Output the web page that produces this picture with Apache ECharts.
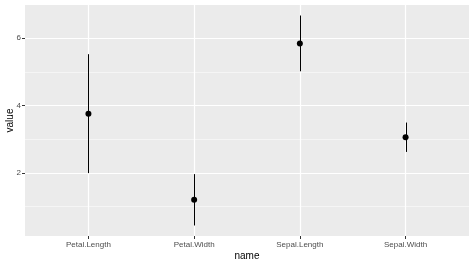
<!DOCTYPE html>
<html>
<head>
<meta charset="utf-8">
<script src="https://cdn.jsdelivr.net/npm/echarts@6/dist/echarts.min.js"></script>
<style>
html,body{margin:0;padding:0;background:#fff;}
#c{width:474px;height:265px;}
</style>
</head>
<body>
<div id="c"></div>
<script>
var categories = ['Petal.Length', 'Petal.Width', 'Sepal.Length', 'Sepal.Width'];
var means = [3.758, 1.199, 5.843, 3.057];
var lowers = [1.993, 0.437, 5.015, 2.621];
var uppers = [5.523, 1.962, 6.671, 3.493];
var yMajorTicks = [2, 4, 6];
var yMinorTicks = [1, 3, 5];
var yMin = 0.125, yMax = 6.983;

var xPos = categories.map(function (c, i) { return i + 1; });
var barData = categories.map(function (c, i) { return [xPos[i], lowers[i], uppers[i]]; });
var pointData = categories.map(function (c, i) { return [xPos[i], means[i]]; });

var chart = echarts.init(document.getElementById('c'), null, {renderer: 'canvas'});
var font = 'Liberation Sans, Arial, sans-serif';
chart.setOption({
  animation: false,
  backgroundColor: '#ffffff',
  grid: {left: 25, right: 5, top: 5, bottom: 29, containLabel: false, outerBoundsMode: 'none',
    show: true, backgroundColor: '#ebebeb', borderWidth: 0},
  xAxis: {
    type: 'value', min: 0.4, max: 4.6,
    name: 'name', nameLocation: 'middle', nameGap: 15, nameMoveOverlap: false,
    nameTextStyle: {color: '#000', fontSize: 10, fontFamily: font},
    axisLine: {show: false},
    axisTick: {show: true, length: 3, lineStyle: {color: '#333', width: 1}, customValues: xPos},
    axisLabel: {color: '#4d4d4d', fontSize: 8, fontFamily: font, margin: 5, customValues: xPos,
      formatter: function (v) { return categories[Math.round(v) - 1] || ''; }},
    splitLine: {show: true, lineStyle: {color: '#ffffff', width: 1.2}}
  },
  yAxis: [{
    type: 'value', min: yMin, max: yMax,
    name: 'value', nameLocation: 'middle', nameGap: 10, nameRotate: 90, nameMoveOverlap: false,
    nameTextStyle: {color: '#000', fontSize: 10, fontFamily: font},
    axisLine: {show: false},
    axisTick: {show: true, length: 3, lineStyle: {color: '#333', width: 1}, customValues: yMajorTicks},
    axisLabel: {color: '#4d4d4d', fontSize: 8, fontFamily: font, margin: 4, customValues: yMajorTicks},
    splitLine: {show: true, lineStyle: {color: '#ffffff', width: 1.2}}
  }, {
    type: 'value', min: yMin, max: yMax, position: 'left',
    axisLine: {show: false},
    axisTick: {show: false, customValues: yMinorTicks},
    axisLabel: {show: false, customValues: yMinorTicks},
    splitLine: {show: true, lineStyle: {color: '#f7f7f7', width: 0.8}}
  }],
  series: [{
    type: 'custom',
    yAxisIndex: 0,
    data: barData,
    renderItem: function (params, api) {
      var lo = api.coord([api.value(0), api.value(1)]);
      var hi = api.coord([api.value(0), api.value(2)]);
      var x = Math.round(lo[0]) + 0.5;
      return {type: 'line', shape: {x1: x, y1: lo[1], x2: x, y2: hi[1]},
        style: {stroke: '#000000', lineWidth: 1}};
    },
    z: 3
  }, {
    type: 'scatter',
    yAxisIndex: 0,
    data: pointData,
    symbol: 'circle', symbolSize: 6,
    itemStyle: {color: '#000000', opacity: 1},
    z: 4
  }]
});
</script>
</body>
</html>
